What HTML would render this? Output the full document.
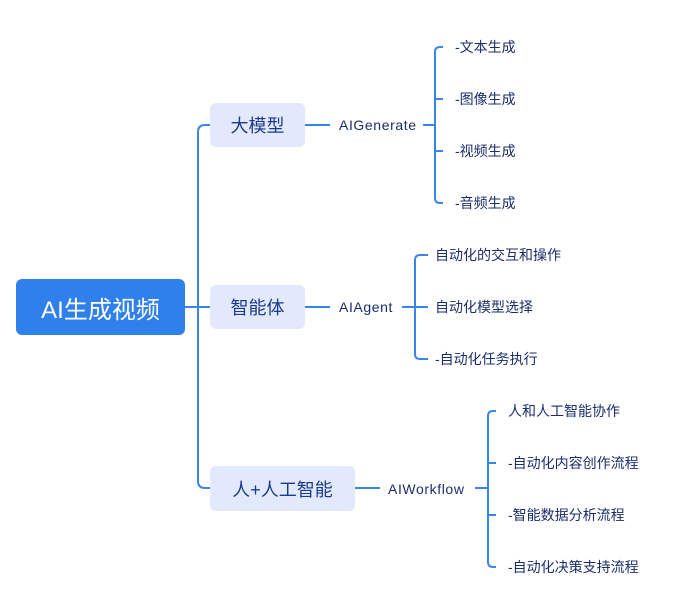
<!DOCTYPE html>
<html><head><meta charset="utf-8"><style>
body{margin:0;background:#fff;width:696px;height:596px;position:relative;overflow:hidden;font-family:"Liberation Sans","Noto Sans CJK SC",sans-serif;}
.t{position:absolute;color:#1b2d6b;font-size:14px;line-height:16px;white-space:nowrap}
.l{letter-spacing:0.6px}
.n{position:absolute;background:#e2e9fc;border-radius:6px;color:#1b3a8c;font-size:18px;display:flex;align-items:center;justify-content:center}
</style></head><body>
<svg width="696" height="596" style="position:absolute;left:0;top:0" fill="none" stroke="#3a86e8" stroke-width="2">
<path d="M185 307H210"/>
<path d="M210 125H205Q198 125 198 132V481Q198 488 205 488H210"/>
<path d="M305 125H330M305 307H330M355 488H380"/>
<path d="M423 125H435M443 47H440Q435 47 435 52V198Q435 203 440 203H443M435 99H443M435 151H443"/>
<path d="M402 307H428M428 255H420Q415 255 415 260V354Q415 359 420 359H428"/>
<path d="M475 488H488M496 411H493Q488 411 488 416V562Q488 567 493 567H496M488 463H496M488 515H496"/>
</svg>
<div class="n" style="left:16px;top:279px;width:169px;height:56px;background:#3080eb;color:#fff;font-size:24px">AI生成视频</div>
<div class="n" style="left:210px;top:103px;width:95px;height:44px">大模型</div>
<div class="n" style="left:210px;top:285px;width:95px;height:44px">智能体</div>
<div class="n" style="left:210px;top:466px;width:145px;height:45px">人+人工智能</div>
<div class="t l" style="left:339px;top:117px">AIGenerate</div>
<div class="t l" style="left:339px;top:299px">AIAgent</div>
<div class="t l" style="left:388px;top:481px">AIWorkflow</div>
<div class="t" style="left:455px;top:39px">-文本生成</div>
<div class="t" style="left:455px;top:91px">-图像生成</div>
<div class="t" style="left:455px;top:143px">-视频生成</div>
<div class="t" style="left:455px;top:195px">-音频生成</div>
<div class="t" style="left:435px;top:247px">自动化的交互和操作</div>
<div class="t" style="left:435px;top:299px">自动化模型选择</div>
<div class="t" style="left:435px;top:351px">-自动化任务执行</div>
<div class="t" style="left:508px;top:403px">人和人工智能协作</div>
<div class="t" style="left:508px;top:455px">-自动化内容创作流程</div>
<div class="t" style="left:508px;top:507px">-智能数据分析流程</div>
<div class="t" style="left:508px;top:559px">-自动化决策支持流程</div>
</body></html>
